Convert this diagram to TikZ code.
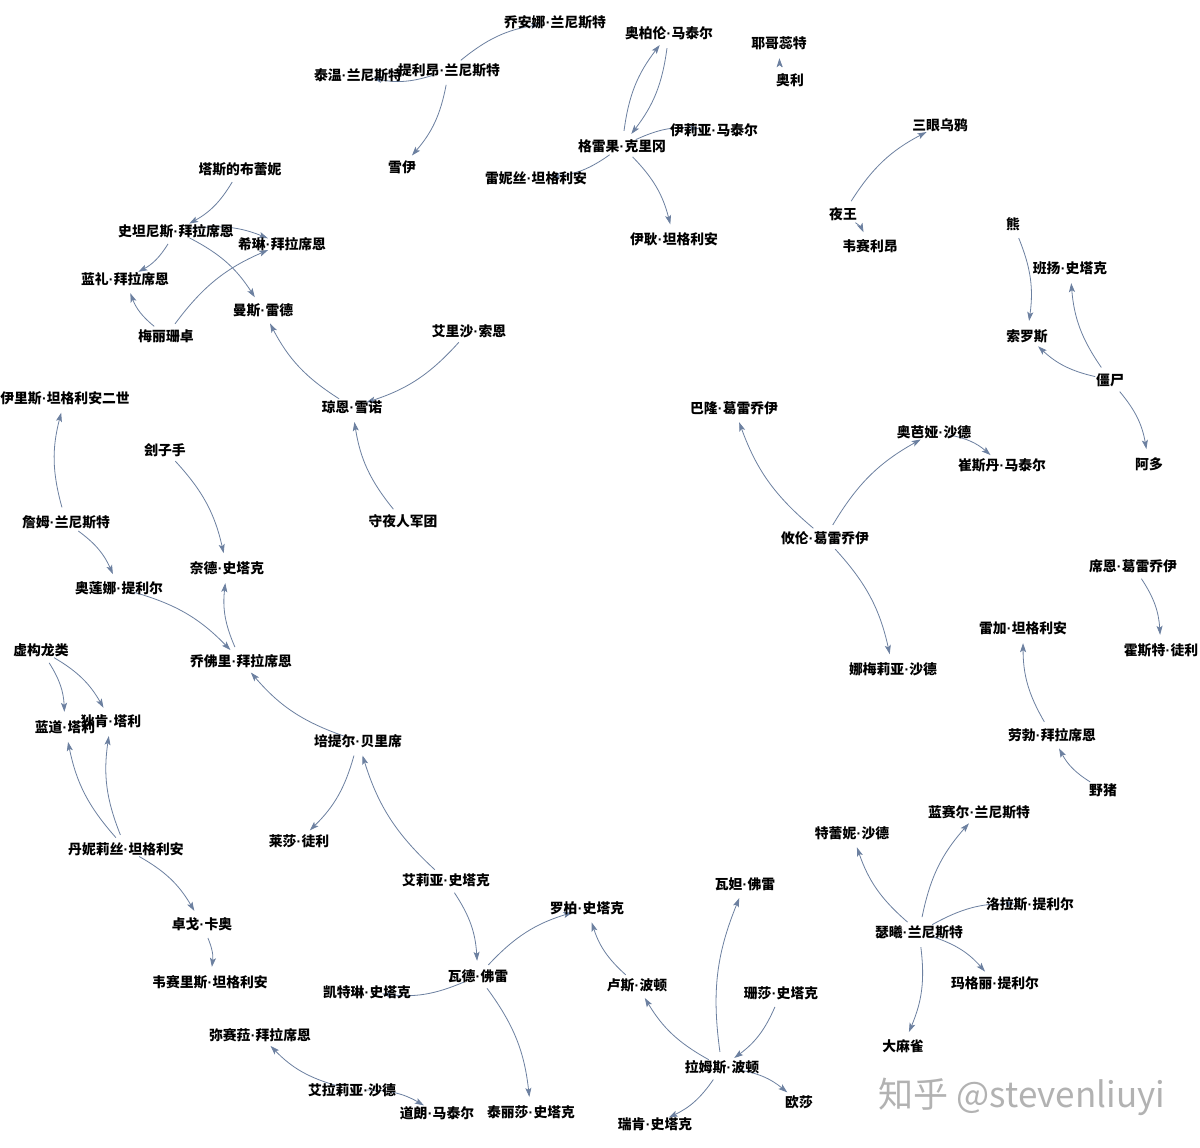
\documentclass[tikz,border=0pt]{standalone}
\usepackage{fontspec}
\usepackage{newunicodechar}
\setmainfont{Noto Sans CJK SC}
\newfontfamily\dotfont{Liberation Sans}
\newunicodechar{·}{{\dotfont\hspace{0.3pt}·\hspace{0.3pt}}}
\usetikzlibrary{arrows.meta}
\pgfdeclarelayer{bg}
\pgfsetlayers{bg,main}
\definecolor{edgec}{RGB}{108,128,160}
\definecolor{wmc}{RGB}{178,178,178}
\newcommand\V[4]{\node[v,label={[lab]center:#4}] (#1) at (#2,-#3) {};}
\begin{document}
\begin{tikzpicture}[x=1pt,y=1pt,
  v/.style={circle,minimum size=30pt,inner sep=0pt},
  lab/.style={font=\fontsize{13.8}{14}\selectfont\bfseries,text=black,inner sep=0pt},
  e/.style={draw=edgec,line width=0.8pt,-{Stealth[length=9pt,width=6pt,inset=2pt]},bend left=15}]
\useasboundingbox (0,0) rectangle (1200,-1148);
\V{qan}{555}{22}{乔安娜·兰尼斯特}
\V{obr}{669}{33}{奥柏伦·马泰尔}
\V{ygr}{779}{43}{耶哥蕊特}
\V{oly}{790}{80}{奥利}
\V{tyw}{358}{75}{泰温·兰尼斯特}
\V{tyr}{449}{70}{提利昂·兰尼斯特}
\V{shy}{402}{167}{雪伊}
\V{eli}{714}{130}{伊莉亚·马泰尔}
\V{grg}{622}{146}{格雷果·克里冈}
\V{rhs}{536}{178}{雷妮丝·坦格利安}
\V{aeg}{674}{239}{伊耿·坦格利安}
\V{tec}{940}{125}{三眼乌鸦}
\V{nkg}{843}{214}{夜王}
\V{wsr}{870}{246}{韦赛利昂}
\V{bear}{1013}{224}{熊}
\V{bnj}{1070}{268}{班扬·史塔克}
\V{thr}{1027}{336}{索罗斯}
\V{wht}{1110}{380}{僵尸}
\V{hdr}{1149}{464}{阿多}
\V{brn}{240}{169}{塔斯的布蕾妮}
\V{stn}{176}{231}{史坦尼斯·拜拉席恩}
\V{shr}{282}{244}{希琳·拜拉席恩}
\V{rnl}{125}{279}{蓝礼·拜拉席恩}
\V{mnc}{263}{310}{曼斯·雷德}
\V{mls}{166}{336}{梅丽珊卓}
\V{ali}{469}{331}{艾里沙·索恩}
\V{jon}{352}{407}{琼恩·雪诺}
\V{nwt}{403}{521}{守夜人军团}
\V{ars}{65}{398}{伊里斯·坦格利安二世}
\V{exe}{165}{450}{刽子手}
\V{jmi}{66}{522}{詹姆·兰尼斯特}
\V{ned}{227}{568}{奈德·史塔克}
\V{ole}{119}{588}{奥莲娜·提利尔}
\V{jof}{241}{661}{乔佛里·拜拉席恩}
\V{drg}{41}{650}{虚构龙类}
\V{rnd}{65}{727}{蓝道·塔利}
\V{dkn}{111}{721}{狄肯·塔利}
\V{ptr}{358}{741}{培提尔·贝里席}
\V{dny}{126}{849}{丹妮莉丝·坦格利安}
\V{lys}{299}{841}{莱莎·徒利}
\V{ary}{446}{880}{艾莉亚·史塔克}
\V{drk}{202}{924}{卓戈·卡奥}
\V{vsr}{210}{982}{韦赛里斯·坦格利安}
\V{rob}{587}{908}{罗柏·史塔克}
\V{wdr}{478}{976}{瓦德·佛雷}
\V{cat}{367}{992}{凯特琳·史塔克}
\V{rse}{637}{985}{卢斯·波顿}
\V{wld}{745}{884}{瓦妲·佛雷}
\V{san}{781}{993}{珊莎·史塔克}
\V{ram}{722}{1067}{拉姆斯·波顿}
\V{osh}{799}{1102}{欧莎}
\V{rck}{655}{1124}{瑞肯·史塔克}
\V{myr}{260}{1035}{弥赛菈·拜拉席恩}
\V{ela}{352}{1090}{艾拉莉亚·沙德}
\V{dor}{437}{1113}{道朗·马泰尔}
\V{tls}{531}{1112}{泰丽莎·史塔克}
\V{bal}{734}{408}{巴隆·葛雷乔伊}
\V{oba}{934}{432}{奥芭娅·沙德}
\V{trs}{1002}{465}{崔斯丹·马泰尔}
\V{eur}{825}{538}{攸伦·葛雷乔伊}
\V{nym}{893}{669}{娜梅莉亚·沙德}
\V{thn}{1133}{566}{席恩·葛雷乔伊}
\V{hst}{1161}{650}{霍斯特·徒利}
\V{rhg}{1023}{628}{雷加·坦格利安}
\V{rbt}{1052}{735}{劳勃·拜拉席恩}
\V{boar}{1103}{790}{野猪}
\V{lnc}{979}{812}{蓝赛尔·兰尼斯特}
\V{try}{852}{833}{特蕾妮·沙德}
\V{lor}{1030}{904}{洛拉斯·提利尔}
\V{crs}{919}{932}{瑟曦·兰尼斯特}
\V{mrg}{995}{983}{玛格丽·提利尔}
\V{hsp}{903}{1046}{大麻雀}
\node[font=\fontsize{35}{37}\selectfont,text=wmc,inner sep=0pt] (wmk) at (1022,-1097) {知乎 @stevenliuyi};
\begin{pgfonlayer}{bg}
\fill[white] (0,0) rectangle (1200,-1148);
\draw[e] (tyr) to (qan); \draw[e] (tyr) to (tyw); \draw[e] (tyr) to (shy);
\draw[e] (grg) to (obr); \draw[e] (obr) to (grg); \draw[e] (grg) to (eli);
\draw[e] (grg) to (rhs); \draw[e] (grg) to (aeg);
\draw[e] (oly) to (ygr);
\draw[e] (nkg) to (tec); \draw[e] (nkg) to (wsr);
\draw[e] (bear) to (thr); \draw[e] (wht) to (thr); \draw[e] (wht) to (bnj); \draw[e] (wht) to (hdr);
\draw[e] (brn) to (stn); \draw[e] (stn) to (rnl); \draw[e] (stn) to (shr); \draw[e] (stn) to (mnc);
\draw[e] (mls) to (rnl); \draw[e] (mls) to (shr);
\draw[e] (jon) to (mnc); \draw[e] (ali) to (jon); \draw[e] (nwt) to (jon);
\draw[e] (jmi) to (ars); \draw[e] (jmi) to (ole);
\draw[e] (exe) to (ned);
\draw[e] (ole) to (jof); \draw[e] (jof) to (ned);
\draw[e] (ptr) to (jof); \draw[e] (ptr) to (lys); \draw[e] (ary) to (ptr);
\draw[e] (drg) to (rnd); \draw[e] (drg) to (dkn);
\draw[e] (dny) to (rnd); \draw[e] (dny) to (dkn); \draw[e] (dny) to (drk); \draw[e] (drk) to (vsr);
\draw[e] (ary) to (wdr); \draw[e] (wdr) to (rob); \draw[e] (wdr) to (cat); \draw[e] (wdr) to (tls);
\draw[e] (rse) to (rob); \draw[e] (ram) to (rse); \draw[e] (ram) to (wld); \draw[e] (san) to (ram);
\draw[e] (ram) to (rck); \draw[e] (ram) to (osh);
\draw[e] (ela) to (myr); \draw[e] (ela) to (dor);
\draw[e] (eur) to (bal); \draw[e] (eur) to (oba); \draw[e] (oba) to (trs); \draw[e] (eur) to (nym);
\draw[e] (thn) to (hst);
\draw[e] (rbt) to (rhg); \draw[e] (boar) to (rbt);
\draw[e] (crs) to (try); \draw[e] (crs) to (lnc); \draw[e] (crs) to (lor); \draw[e] (crs) to (mrg); \draw[e] (crs) to (hsp);
\end{pgfonlayer}
\end{tikzpicture}
\end{document}
